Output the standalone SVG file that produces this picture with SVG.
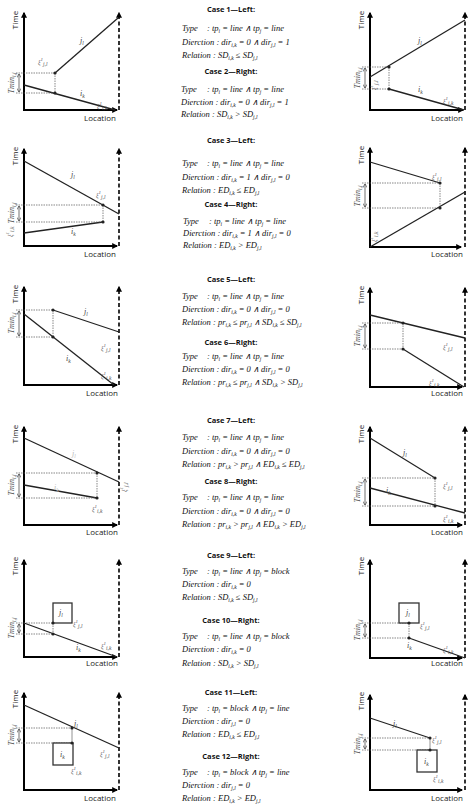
<svg xmlns="http://www.w3.org/2000/svg" width="474" height="808" viewBox="0 0 474 808">
<defs>
<marker id="ah" viewBox="0 0 10 10" refX="8" refY="5" markerWidth="6" markerHeight="7" markerUnits="userSpaceOnUse" orient="auto-start-reverse"><path d="M0,0 L10,5 L0,10 z" fill="#000"/></marker>
<marker id="sa" viewBox="0 0 10 10" refX="9" refY="5" markerWidth="4" markerHeight="4" markerUnits="userSpaceOnUse" orient="auto-start-reverse"><path d="M0,0 L10,5 L0,10" fill="none" stroke="#333" stroke-width="1.5"/></marker>
<style>
.ax{stroke:#000;stroke-width:2;fill:none;marker-start:url(#ah);marker-end:url(#ah)}
.dash{stroke:#000;stroke-width:1.6;stroke-dasharray:4 2.5;fill:none;marker-end:url(#ah)}
.ln{stroke:#222;stroke-width:1.3;fill:none}
.dt{stroke:#555;stroke-width:0.7;stroke-dasharray:1.5 1;fill:none}
.tm{stroke:#333;stroke-width:0.7;fill:none;marker-start:url(#sa);marker-end:url(#sa)}
.pt{fill:#222}
.blk{fill:#fff;stroke:#333;stroke-width:1.3}
.at{font-family:"Open Sans","Liberation Sans",Arial,sans-serif;font-size:8px;fill:#222}
.lb{font-family:"Liberation Serif","Times New Roman",serif;font-style:italic;font-size:8px;fill:#444}
.fl{fill:#bbb}
.st{font-family:"Liberation Serif","Times New Roman",serif;font-style:italic;font-size:6px;fill:#555}
.ttl{font-family:"Open Sans","Liberation Sans",sans-serif;font-weight:bold;font-size:7.5px;fill:#111;text-anchor:middle}
.eq{font-family:"Liberation Serif","Times New Roman",serif;font-style:italic;font-size:8.5px;fill:#111}
.b{font-size:5.5px;baseline-shift:-2px}
.u{font-size:5px;baseline-shift:3px}
</style>
</defs>

<g id="connectors">
<path class="ax" d="M24,13 V110 H117"/>
<path class="dash" d="M119,110 V13"/>
<path class="ln" d="M55,73 L118,18"/>
<path class="ln" d="M24,85 L115,110"/>
<path class="dt" d="M16,73 H55 M16,93 H55 M55,73 V93"/>
<path class="tm" d="M19,74 V92"/>
<path class="ax" d="M370,13 V110 H463"/>
<path class="dash" d="M465,110 V13"/>
<path class="ln" d="M370,77 L465,20"/>
<path class="ln" d="M389,89 L464,110"/>
<path class="dt" d="M362,67 H389 M362,89 H389 M389,67 V89"/>
<path class="tm" d="M365,68 V88"/>

<path class="ax" d="M24,149 V246 H117"/>
<path class="dash" d="M119,246 V149"/>
<path class="ln" d="M24,161 L119,214"/>
<path class="ln" d="M24,233 L103,222"/>
<path class="dt" d="M16,205 H103 M16,222 H103 M103,205 V222"/>
<path class="tm" d="M19,206 V221"/>
<path class="ax" d="M370,148 V247 H461"/>
<path class="dash" d="M465,247 V148"/>
<path class="ln" d="M370,162 L440,183"/>
<path class="ln" d="M370,247 L465,192"/>
<path class="dt" d="M362,183 H440 M362,208 H440 M440,183 V208"/>
<path class="tm" d="M365,184 V207"/>

<path class="ax" d="M24,287 V385 H117"/>
<path class="dash" d="M119,385 V287"/>
<path class="ln" d="M53,310 L119,332"/>
<path class="ln" d="M24,314 L114,385"/>
<path class="dt" d="M16,310 H53 M16,337 H53 M53,310 V337"/>
<path class="tm" d="M19,311 V336"/>
<path class="ax" d="M370,288 V387 H462"/>
<path class="dash" d="M465,387 V288"/>
<path class="ln" d="M370,315 L465,338"/>
<path class="ln" d="M403,349 L464,387"/>
<path class="dt" d="M362,323 H403 M362,349 H403 M403,323 V349"/>
<path class="tm" d="M365,324 V348"/>

<path class="ax" d="M24,427 V525 H117"/>
<path class="dash" d="M119,525 V427"/>
<path class="ln" d="M24,438 L119,482"/>
<path class="ln" d="M24,485 L97,498"/>
<path class="dt" d="M16,473 H97 M16,498 H97 M97,473 V498"/>
<path class="tm" d="M19,474 V497"/>
<path class="ax" d="M370,427 V525 H462"/>
<path class="dash" d="M465,525 V427"/>
<path class="ln" d="M370,438 L435,478"/>
<path class="ln" d="M370,488 L465,513"/>
<path class="dt" d="M362,478 H435 M362,506 H435 M435,478 V506"/>
<path class="tm" d="M365,479 V505"/>

<path class="ax" d="M24,560 V657 H117"/>
<path class="dash" d="M119,657 V560"/>
<path class="ln" d="M24,623 L117,657"/>
<path class="dt" d="M16,623 H53 M16,634 H53 M53,623 V634"/>
<path class="tm" d="M19,624 V633"/>
<path class="ax" d="M370,560 V658 H462"/>
<path class="dash" d="M465,658 V560"/>
<path class="ln" d="M409,638 L465,658"/>
<path class="dt" d="M362,623 H409 M362,638 H409 M409,623 V638"/>
<path class="tm" d="M365,624 V637"/>

<path class="ax" d="M24,693 V790 H117"/>
<path class="dash" d="M119,790 V693"/>
<path class="ln" d="M24,705 L119,748"/>
<path class="dt" d="M16,728 H72 M16,743 H72"/>
<path d="M72,728 V743" stroke="#777" stroke-width="0.8"/>
<path class="tm" d="M19,729 V742"/>
<path class="ax" d="M370,695 V790 H462"/>
<path class="dash" d="M465,790 V695"/>
<path class="ln" d="M370,718 L430,738"/>
<path class="dt" d="M362,738 H430 M362,750 H430"/>
<path d="M430,738 V750" stroke="#777" stroke-width="0.8"/>
<path class="tm" d="M365,739 V749"/>
</g>

<g id="panel1L">
<circle class="pt" cx="55" cy="73" r="1.6"/><circle class="pt" cx="55" cy="93" r="1.6"/>
<text class="at" transform="translate(18,20) rotate(-90)" text-anchor="middle">Time</text>
<text class="at" x="100" y="121" text-anchor="middle">Location</text>
<text class="lb" x="80" y="43">j<tspan class="b">l</tspan></text>
<text class="lb" x="80" y="96">i<tspan class="b">k</tspan></text>
<text class="st" x="38" y="64">ξ<tspan class="u">1</tspan><tspan class="b">j,l</tspan></text>
<text class="st" x="97" y="108">ξ<tspan class="u">1</tspan><tspan class="b">i,k</tspan></text>
<text class="lb" transform="translate(14,83) rotate(-90)" text-anchor="middle">Tmin<tspan class="b">i,j</tspan></text>
</g>
<g id="panel2R">
<circle class="pt" cx="389" cy="67" r="1.6"/><circle class="pt" cx="389" cy="89" r="1.6"/>
<text class="at" transform="translate(364,20) rotate(-90)" text-anchor="middle">Time</text>
<text class="at" x="447" y="121" text-anchor="middle">Location</text>
<text class="lb" x="418" y="43">j<tspan class="b">l</tspan></text>
<text class="lb" x="418" y="92">i<tspan class="b">k</tspan></text>
<text class="st" transform="translate(376,90) rotate(-90)">ξ<tspan class="u">1</tspan><tspan class="b">j,l</tspan></text>
<text class="st" x="443" y="103">ξ<tspan class="u">1</tspan><tspan class="b">i,k</tspan></text>
<text class="lb" transform="translate(360,78) rotate(-90)" text-anchor="middle">Tmin<tspan class="b">i,j</tspan></text>
</g>

<g id="panel3L">
<circle class="pt" cx="103" cy="205" r="1.6"/><circle class="pt" cx="103" cy="222" r="1.6"/>
<text class="at" transform="translate(18,156) rotate(-90)" text-anchor="middle">Time</text>
<text class="at" x="100" y="257" text-anchor="middle">Location</text>
<text class="lb" x="71" y="177">j<tspan class="b">l</tspan></text>
<text class="lb" x="71" y="234">i<tspan class="b">k</tspan></text>
<text class="st" x="96" y="197">ξ<tspan class="u">1</tspan><tspan class="b">j,l</tspan></text>
<text class="st" transform="translate(12,237) rotate(-90)">ξ<tspan class="u">1</tspan><tspan class="b">i,k</tspan></text>
<text class="lb" transform="translate(14,213) rotate(-90)" text-anchor="middle">Tmin<tspan class="b">i,j</tspan></text>
</g>
<g id="panel4R">
<circle class="pt" cx="440" cy="183" r="1.6"/><circle class="pt" cx="440" cy="208" r="1.6"/>
<text class="at" transform="translate(364,155) rotate(-90)" text-anchor="middle">Time</text>
<text class="at" x="447" y="257" text-anchor="middle">Location</text>
<text class="st" x="432" y="179">ξ<tspan class="u">1</tspan><tspan class="b">j,l</tspan></text>
<text class="st" transform="translate(376,242) rotate(-90)">ξ<tspan class="u">1</tspan><tspan class="b">i,k</tspan></text>
<text class="lb" transform="translate(360,196) rotate(-90)" text-anchor="middle">Tmin<tspan class="b">i,j</tspan></text>
</g>

<g id="panel5L">
<circle class="pt" cx="53" cy="310" r="1.6"/><circle class="pt" cx="53" cy="337" r="1.6"/>
<text class="at" transform="translate(18,294) rotate(-90)" text-anchor="middle">Time</text>
<text class="at" x="102" y="396" text-anchor="middle">Location</text>
<text class="lb" x="84" y="314">j<tspan class="b">l</tspan></text>
<text class="lb" x="66" y="361">i<tspan class="b">k</tspan></text>
<text class="st" x="101" y="350">ξ<tspan class="u">1</tspan><tspan class="b">j,l</tspan></text>
<text class="st" x="101" y="378">ξ<tspan class="u">1</tspan><tspan class="b">i,k</tspan></text>
<text class="lb" transform="translate(14,323) rotate(-90)" text-anchor="middle">Tmin<tspan class="b">i,j</tspan></text>
</g>
<g id="panel6R">
<circle class="pt" cx="403" cy="323" r="1.6"/><circle class="pt" cx="403" cy="349" r="1.6"/>
<text class="at" transform="translate(364,295) rotate(-90)" text-anchor="middle">Time</text>
<text class="at" x="447" y="396" text-anchor="middle">Location</text>
<text class="st" x="443" y="349">ξ<tspan class="u">1</tspan><tspan class="b">j,l</tspan></text>
<text class="st" x="429" y="385">ξ<tspan class="u">1</tspan><tspan class="b">i,k</tspan></text>
<text class="lb" transform="translate(360,336) rotate(-90)" text-anchor="middle">Tmin<tspan class="b">i,j</tspan></text>
</g>

<g id="panel7L">
<circle class="pt" cx="97" cy="473" r="1.6"/><circle class="pt" cx="97" cy="498" r="1.6"/>
<text class="at" transform="translate(18,434) rotate(-90)" text-anchor="middle">Time</text>
<text class="at" x="102" y="535" text-anchor="middle">Location</text>
<text class="lb fl" x="72" y="456">j<tspan class="b">l</tspan></text>
<text class="lb fl" x="54" y="490">i<tspan class="b">k</tspan></text>
<text class="st" x="92" y="511">ξ<tspan class="u">1</tspan><tspan class="b">i,k</tspan></text>
<text class="st" transform="translate(126,492) rotate(-90)">ξ<tspan class="u">1</tspan><tspan class="b">j,l</tspan></text>
<text class="lb" transform="translate(14,485) rotate(-90)" text-anchor="middle">Tmin<tspan class="b">i,j</tspan></text>
</g>
<g id="panel8R">
<circle class="pt" cx="435" cy="478" r="1.6"/><circle class="pt" cx="435" cy="506" r="1.6"/>
<text class="at" transform="translate(364,434) rotate(-90)" text-anchor="middle">Time</text>
<text class="at" x="447" y="535" text-anchor="middle">Location</text>
<text class="lb" x="403" y="455">j<tspan class="b">l</tspan></text>
<text class="lb" x="386" y="493">i<tspan class="b">k</tspan></text>
<text class="st" x="443" y="488">ξ<tspan class="u">1</tspan><tspan class="b">j,l</tspan></text>
<text class="st" x="443" y="521">ξ<tspan class="u">1</tspan><tspan class="b">i,k</tspan></text>
<text class="lb" transform="translate(360,492) rotate(-90)" text-anchor="middle">Tmin<tspan class="b">i,j</tspan></text>
</g>

<g id="panel9L">
<rect class="blk" x="53" y="603" width="19" height="20"/>
<circle class="pt" cx="53" cy="623" r="1.6"/><circle class="pt" cx="53" cy="634" r="1.6"/>
<text class="at" transform="translate(18,566) rotate(-90)" text-anchor="middle">Time</text>
<text class="at" x="102" y="666" text-anchor="middle">Location</text>
<text class="lb" x="59" y="615">j<tspan class="b">l</tspan></text>
<text class="lb" x="76" y="650">i<tspan class="b">k</tspan></text>
<text class="st" x="73" y="626">ξ<tspan class="u">1</tspan><tspan class="b">j,l</tspan></text>
<text class="st" x="101" y="648">ξ<tspan class="u">1</tspan><tspan class="b">i,k</tspan></text>
<text class="lb" transform="translate(14,628) rotate(-90)" text-anchor="middle">Tmin<tspan class="b">i,j</tspan></text>
</g>
<g id="panel10R">
<rect class="blk" x="399" y="603" width="20" height="20"/>
<circle class="pt" cx="409" cy="623" r="1.6"/><circle class="pt" cx="409" cy="638" r="1.6"/>
<text class="at" transform="translate(364,566) rotate(-90)" text-anchor="middle">Time</text>
<text class="at" x="447" y="666" text-anchor="middle">Location</text>
<text class="lb" x="406" y="615">j<tspan class="b">l</tspan></text>
<text class="lb" x="407" y="648">i<tspan class="b">k</tspan></text>
<text class="st" x="420" y="628">ξ<tspan class="u">1</tspan><tspan class="b">j,l</tspan></text>
<text class="st" x="443" y="652">ξ<tspan class="u">1</tspan><tspan class="b">i,k</tspan></text>
<text class="lb" transform="translate(360,630) rotate(-90)" text-anchor="middle">Tmin<tspan class="b">i,j</tspan></text>
</g>

<g id="panel11L">
<rect class="blk" x="53" y="743" width="20" height="22"/>
<circle class="pt" cx="72" cy="728" r="1.6"/><circle class="pt" cx="72" cy="743" r="1.6"/>
<text class="at" transform="translate(18,699) rotate(-90)" text-anchor="middle">Time</text>
<text class="at" x="100" y="801" text-anchor="middle">Location</text>
<text class="lb" x="74" y="726">j<tspan class="b">l</tspan></text>
<text class="lb" x="60" y="757">i<tspan class="b">k</tspan></text>
<text class="st" x="71" y="773">ξ<tspan class="u">1</tspan><tspan class="b">i,k</tspan></text>
<text class="st" x="100" y="756">ξ<tspan class="u">1</tspan><tspan class="b">j,l</tspan></text>
<text class="lb" transform="translate(14,735) rotate(-90)" text-anchor="middle">Tmin<tspan class="b">i,j</tspan></text>
</g>
<g id="panel12R">
<rect class="blk" x="417" y="750" width="20" height="22"/>
<circle class="pt" cx="430" cy="738" r="1.6"/><circle class="pt" cx="430" cy="750" r="1.6"/>
<text class="at" transform="translate(364,701) rotate(-90)" text-anchor="middle">Time</text>
<text class="at" x="447" y="801" text-anchor="middle">Location</text>
<text class="lb" x="393" y="726">j<tspan class="b">l</tspan></text>
<text class="lb" x="424" y="764">i<tspan class="b">k</tspan></text>
<text class="st" x="432" y="742">ξ<tspan class="u">1</tspan><tspan class="b">j,l</tspan></text>
<text class="st" x="433" y="781">ξ<tspan class="u">1</tspan><tspan class="b">i,k</tspan></text>
<text class="lb" transform="translate(360,744) rotate(-90)" text-anchor="middle">Tmin<tspan class="b">i,j</tspan></text>
</g>

<g id="cases1-2">
<text class="ttl" x="231" y="12">Case 1—Left:</text>
<text class="eq" x="182" y="31">Type</text><text class="eq" x="207" y="31">: tp<tspan class="b">i</tspan> = line ∧ tp<tspan class="b">j</tspan> = line</text>
<text class="eq" x="182" y="45">Dierction : dir<tspan class="b">i,k</tspan> = 0 ∧ dir<tspan class="b">j,l</tspan> = 1</text>
<text class="eq" x="182" y="58">Relation</text><text class="eq" x="213" y="58">: SD<tspan class="b">i,k</tspan> ≤ SD<tspan class="b">j,l</tspan></text>
<text class="ttl" x="231" y="74">Case 2—Right:</text>
<text class="eq" x="181" y="92">Type</text><text class="eq" x="207" y="92">: tp<tspan class="b">i</tspan> = line ∧ tp<tspan class="b">j</tspan> = line</text>
<text class="eq" x="181" y="105">Dierction : dir<tspan class="b">i,k</tspan> = 0 ∧ dir<tspan class="b">j,l</tspan> = 1</text>
<text class="eq" x="181" y="117">Relation</text><text class="eq" x="212" y="117">: SD<tspan class="b">i,k</tspan> &gt; SD<tspan class="b">j,l</tspan></text>
</g>
<g id="cases3-4">
<text class="ttl" x="231" y="143">Case 3—Left:</text>
<text class="eq" x="182" y="166">Type</text><text class="eq" x="207" y="166">: tp<tspan class="b">i</tspan> = line ∧ tp<tspan class="b">j</tspan> = line</text>
<text class="eq" x="182" y="180">Dierction : dir<tspan class="b">i,k</tspan> = 1 ∧ dir<tspan class="b">j,l</tspan> = 0</text>
<text class="eq" x="182" y="193">Relation</text><text class="eq" x="213" y="193">: ED<tspan class="b">i,k</tspan> ≤ ED<tspan class="b">j,l</tspan></text>
<text class="ttl" x="231" y="207">Case 4—Right:</text>
<text class="eq" x="183" y="224">Type</text><text class="eq" x="209" y="224">: tp<tspan class="b">i</tspan> = line ∧ tp<tspan class="b">j</tspan> = line</text>
<text class="eq" x="183" y="236">Dierction : dir<tspan class="b">i,k</tspan> = 1 ∧ dir<tspan class="b">j,l</tspan> = 0</text>
<text class="eq" x="183" y="248">Relation</text><text class="eq" x="214" y="248">: ED<tspan class="b">i,k</tspan> &gt; ED<tspan class="b">j,l</tspan></text>
</g>
<g id="cases5-6">
<text class="ttl" x="231" y="282">Case 5—Left:</text>
<text class="eq" x="182" y="299">Type</text><text class="eq" x="207" y="299">: tp<tspan class="b">i</tspan> = line ∧ tp<tspan class="b">j</tspan> = line</text>
<text class="eq" x="182" y="312">Dierction : dir<tspan class="b">i,k</tspan> = 0 ∧ dir<tspan class="b">j,l</tspan> = 0</text>
<text class="eq" x="182" y="325">Relation</text><text class="eq" x="213" y="325">: pr<tspan class="b">i,k</tspan> ≤ pr<tspan class="b">j,l</tspan> ∧ SD<tspan class="b">i,k</tspan> ≤ SD<tspan class="b">j,l</tspan></text>
<text class="ttl" x="231" y="345">Case 6—Right:</text>
<text class="eq" x="182" y="359">Type</text><text class="eq" x="207" y="359">: tp<tspan class="b">i</tspan> = line ∧ tp<tspan class="b">j</tspan> = line</text>
<text class="eq" x="182" y="372">Dierction : dir<tspan class="b">i,k</tspan> = 0 ∧ dir<tspan class="b">j,l</tspan> = 0</text>
<text class="eq" x="182" y="385">Relation</text><text class="eq" x="213" y="385">: pr<tspan class="b">i,k</tspan> ≤ pr<tspan class="b">j,l</tspan> ∧ SD<tspan class="b">i,k</tspan> &gt; SD<tspan class="b">j,l</tspan></text>
</g>
<g id="cases7-8">
<text class="ttl" x="231" y="423">Case 7—Left:</text>
<text class="eq" x="182" y="440">Type</text><text class="eq" x="207" y="440">: tp<tspan class="b">i</tspan> = line ∧ tp<tspan class="b">j</tspan> = line</text>
<text class="eq" x="182" y="454">Dierction : dir<tspan class="b">i,k</tspan> = 0 ∧ dir<tspan class="b">j,l</tspan> = 0</text>
<text class="eq" x="182" y="467">Relation</text><text class="eq" x="213" y="467">: pr<tspan class="b">i,k</tspan> &gt; pr<tspan class="b">j,l</tspan> ∧ ED<tspan class="b">i,k</tspan> ≤ ED<tspan class="b">j,l</tspan></text>
<text class="ttl" x="231" y="484">Case 8—Right:</text>
<text class="eq" x="182" y="500">Type</text><text class="eq" x="207" y="500">: tp<tspan class="b">i</tspan> = line ∧ tp<tspan class="b">j</tspan> = line</text>
<text class="eq" x="182" y="514">Dierction : dir<tspan class="b">i,k</tspan> = 0 ∧ dir<tspan class="b">j,l</tspan> = 0</text>
<text class="eq" x="182" y="527">Relation</text><text class="eq" x="213" y="527">: pr<tspan class="b">i,k</tspan> &gt; pr<tspan class="b">j,l</tspan> ∧ ED<tspan class="b">i,k</tspan> &gt; ED<tspan class="b">j,l</tspan></text>
</g>
<g id="cases9-10">
<text class="ttl" x="231" y="558">Case 9—Left:</text>
<text class="eq" x="182" y="574">Type</text><text class="eq" x="207" y="574">: tp<tspan class="b">i</tspan> = line ∧ tp<tspan class="b">j</tspan> = block</text>
<text class="eq" x="182" y="587">Dierction : dir<tspan class="b">i,k</tspan> = 0</text>
<text class="eq" x="182" y="600">Relation</text><text class="eq" x="213" y="600">: SD<tspan class="b">i,k</tspan> ≤ SD<tspan class="b">j,l</tspan></text>
<text class="ttl" x="231" y="623">Case 10—Right:</text>
<text class="eq" x="182" y="639">Type</text><text class="eq" x="207" y="639">: tp<tspan class="b">i</tspan> = line ∧ tp<tspan class="b">j</tspan> = block</text>
<text class="eq" x="182" y="652">Dierction : dir<tspan class="b">i,k</tspan> = 0</text>
<text class="eq" x="182" y="666">Relation</text><text class="eq" x="213" y="666">: SD<tspan class="b">i,k</tspan> &gt; SD<tspan class="b">j,l</tspan></text>
</g>
<g id="cases11-12">
<text class="ttl" x="231" y="695">Case 11—Left:</text>
<text class="eq" x="182" y="711">Type</text><text class="eq" x="207" y="711">: tp<tspan class="b">i</tspan> = block ∧ tp<tspan class="b">j</tspan> = line</text>
<text class="eq" x="182" y="724">Dierction : dir<tspan class="b">j,l</tspan> = 0</text>
<text class="eq" x="182" y="737">Relation</text><text class="eq" x="213" y="737">: ED<tspan class="b">i,k</tspan> ≤ ED<tspan class="b">j,l</tspan></text>
<text class="ttl" x="231" y="759">Case 12—Right:</text>
<text class="eq" x="182" y="775">Type</text><text class="eq" x="207" y="775">: tp<tspan class="b">i</tspan> = block ∧ tp<tspan class="b">j</tspan> = line</text>
<text class="eq" x="182" y="788">Dierction : dir<tspan class="b">j,l</tspan> = 0</text>
<text class="eq" x="182" y="801">Relation</text><text class="eq" x="213" y="801">: ED<tspan class="b">i,k</tspan> &gt; ED<tspan class="b">j,l</tspan></text>
</g>
</svg>
